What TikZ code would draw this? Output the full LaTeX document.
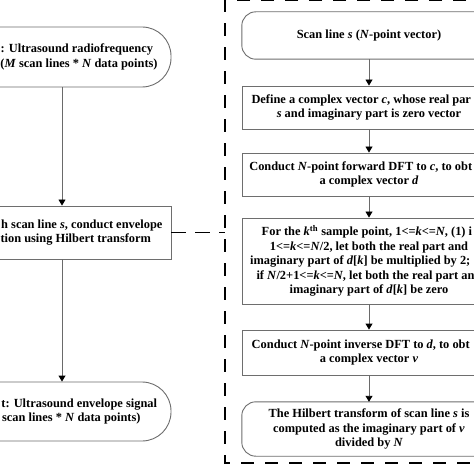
\documentclass[tikz,border=0pt]{standalone}
\usepackage{fontspec}
\setmainfont{Liberation Serif}
\usetikzlibrary{arrows.meta}
\definecolor{boxgray}{HTML}{6E6E6E}
\definecolor{linegray}{HTML}{6A6A6A}
\begin{document}
\begin{tikzpicture}[x=1bp,y=-1bp,
  every node/.style={font=\fontsize{12.4bp}{14.5bp}\selectfont\bfseries, align=center, inner sep=0pt},
  procbox/.style={draw=boxgray, line width=0.9bp, rectangle},
  termbox/.style={draw=boxgray, line width=0.9bp, rectangle, rounded corners=29bp},
  plainbox/.style={draw=none, rectangle},
  curvedside/.style={draw=boxgray, line width=0.9bp, rounded corners=14bp},
  flow/.style={draw=linegray, line width=0.9bp, -{Triangle[length=6bp,width=7bp,color=black,fill=black]}},
  framedash/.style={draw=black, line width=1.8bp, dash pattern=on 13bp off 11bp},
  linkdash/.style={draw=black, line width=1.8bp, dash pattern=on 15bp off 9bp}
]
\useasboundingbox (0,0) rectangle (474,474);
\clip (0,0) rectangle (474,474);
\fill[white] (0,0) rectangle (474,474);

% left column
\node[termbox, minimum width=218bp, minimum height=60bp] (in) at (62,57)
  {\hphantom{Input}: Ultrasound radiofrequency\\ \hphantom{signal }(\textit{M} scan lines * \textit{N} data points)};
\node[procbox, minimum width=218bp, minimum height=53bp] (hb) at (62,232.5)
  {\hphantom{For eac}h scan line \textit{s}, conduct envelope\\ \hphantom{detec}tion using Hilbert transform};
\node[termbox, minimum width=218bp, minimum height=59bp] (out) at (62,411.5)
  {\hphantom{Outpu}t: Ultrasound envelope signal\\ \hphantom{(\textit{M} }scan lines * \textit{N} data points)};

\draw[flow] (in.south) -- (hb.north);
\draw[flow] (hb.south) -- (out.north);

% right column
\node[plainbox, minimum width=254bp, minimum height=47bp] (scan) at (369,35.5)
  {Scan line \textit{s} (\textit{N}-point vector)};
\node[procbox, minimum width=254bp, minimum height=43bp] (def) at (369,107.5)
  {Define a complex vector \textit{c}, whose real par\hphantom{t is}\\ \textit{s} and imaginary part is zero vector};
\node[procbox, minimum width=254bp, minimum height=43bp] (fwd) at (369,174.5)
  {Conduct \textit{N}-point forward DFT to \textit{c}, to obt\hphantom{ain}\\ a complex vector \textit{d}};
\node[procbox, minimum width=254bp, minimum height=86bp] (kth) at (369,261)
  {For the \textit{k}\textsuperscript{th} sample point, 1<=\textit{k}<=\textit{N}, (1) i\hphantom{f}\\
   1<=\textit{k}<=\textit{N}/2, let both the real part and\\
   imaginary part of \textit{d}[\textit{k}] be multiplied by 2;\hphantom{ (2)}\\
   if \textit{N}/2+1<=\textit{k}<=\textit{N}, let both the real part an\hphantom{d}\\
   imaginary part of \textit{d}[\textit{k}] be zero};
\node[procbox, minimum width=254bp, minimum height=45bp] (inv) at (369,352.5)
  {Conduct \textit{N}-point inverse DFT to \textit{d}, to obt\hphantom{ain}\\ a complex vector \textit{v}};
\node[plainbox, minimum width=254bp, minimum height=54bp] (hil) at (369,429)
  {The Hilbert transform of scan line \textit{s} is\\ computed as the imaginary part of \textit{v}\\ divided by \textit{N}};

\draw[curvedside] (scan.north east) -- (scan.north west) -- (scan.south west) -- (scan.south east);
\draw[curvedside] (hil.north east) -- (hil.north west) -- (hil.south west) -- (hil.south east);

\draw[flow] (scan.south) -- (def.north);
\draw[flow] (def.south) -- (fwd.north);
\draw[flow] (fwd.south) -- (kth.north);
\draw[flow] (kth.south) -- (inv.north);
\draw[flow] (inv.south) -- (hil.north);

% dashed frame
\coordinate (frameTR) at (490,0.3);
\coordinate (frameTL) at (225,0.3);
\coordinate (frameBL) at (225,463);
\coordinate (frameBR) at (490,463);
\draw[framedash] (frameTR) -- (frameTL) -- (frameBL) -- (frameBR);
\coordinate (frameL) at (225,232.5);
\draw[linkdash] (hb.east) -- (frameL);
\end{tikzpicture}
\end{document}
